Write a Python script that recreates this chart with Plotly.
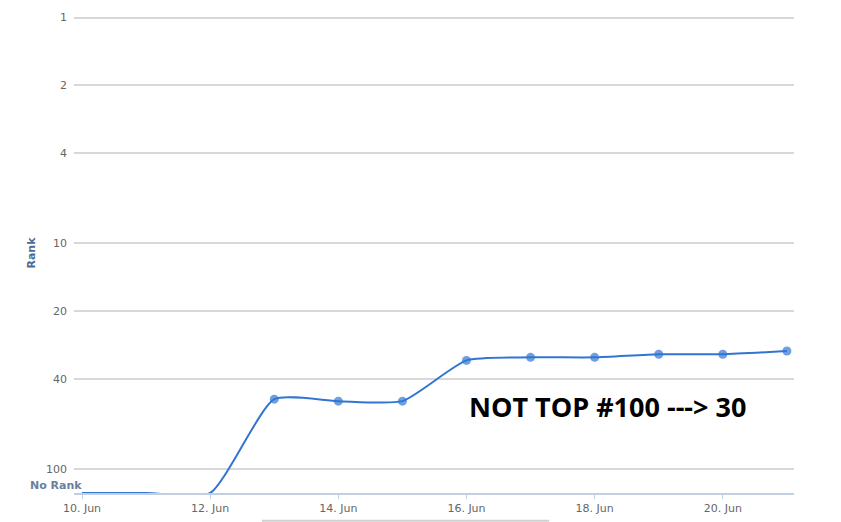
import math
import plotly.graph_objects as go

# rank history (No Rank is drawn on the bottom edge)
NO_RANK = 127.6
dates = ["2014-06-10", "2014-06-11", "2014-06-12", "2014-06-13", "2014-06-14",
         "2014-06-15", "2014-06-16", "2014-06-17", "2014-06-18", "2014-06-19",
         "2014-06-20", "2014-06-21"]
ranks = [NO_RANK, NO_RANK, NO_RANK, 49, 50, 50, 33, 32, 32, 31, 31, 30]
ranked = [r != NO_RANK for r in ranks]

tick_vals = [1, 2, 4, 10, 20, 40, 100]
tick_text = ["1", "2", "4", "10", "20", "40", "100"]

line_color = "#3076d0"
grid = "#d8d8d8"

fig = go.Figure()
fig.add_trace(go.Scatter(
    x=dates, y=ranks, mode="lines+markers",
    line=dict(color=line_color, width=2, shape="spline", smoothing=0.55),
    marker=dict(color=line_color, size=[9 if k else 0 for k in ranked],
                line=dict(width=0)),
    hoverinfo="x+y", showlegend=False,
))

# the page body adds 8px, so margins are shifted by that
fig.update_layout(
    width=841, height=522,
    margin=dict(l=66, r=55, t=4.5, b=37),
    plot_bgcolor="white", paper_bgcolor="white",
    font=dict(family="DejaVu Sans", size=11, color="#666666"),
    xaxis=dict(
        type="date", automargin=False,
        range=["2014-06-09 21:00", "2014-06-21 02:40"],
        tick0="2014-06-10", dtick=2 * 86400000,
        tickformat="%d. %b",
        showgrid=False, zeroline=False,
        showline=True, linecolor="#c0d0e0", linewidth=2,
        ticks="outside", ticklen=4, tickcolor="#c0d0e0",
    ),
    yaxis=dict(
        type="log", automargin=False,
        range=[math.log10(NO_RANK), -0.02],
        tickvals=tick_vals, ticktext=tick_text,
        showgrid=True, gridcolor=grid, gridwidth=1.5,
        zeroline=False, showline=False,
        ticklabelstandoff=6,
        title=dict(text="<b>Rank</b>", font=dict(size=11, color="#4d6a8f"),
                   standoff=8),
    ),
)

fig.add_annotation(
    x=0.0139, xref="paper", y=math.log10(118), yref="y",
    text="<b>No Rank</b>", showarrow=False, xanchor="right", yanchor="middle",
    font=dict(family="DejaVu Sans", size=11, color="#6a7f9e"),
)

fig.add_annotation(
    x=0.741, xref="paper", y=0.181, yref="paper",
    xanchor="center", yanchor="middle",
    text="<b>NOT TOP #100 ---> 30</b>", showarrow=False,
    font=dict(family="Open Sans", size=27, color="black"),
)

# scrollbar remnant at the bottom edge
fig.add_shape(type="line", xref="paper", yref="paper",
              x0=0.261, x1=0.66, y0=-0.058, y1=-0.058,
              line=dict(color="#d0d0d0", width=2))

fig.write_html("out.html")
